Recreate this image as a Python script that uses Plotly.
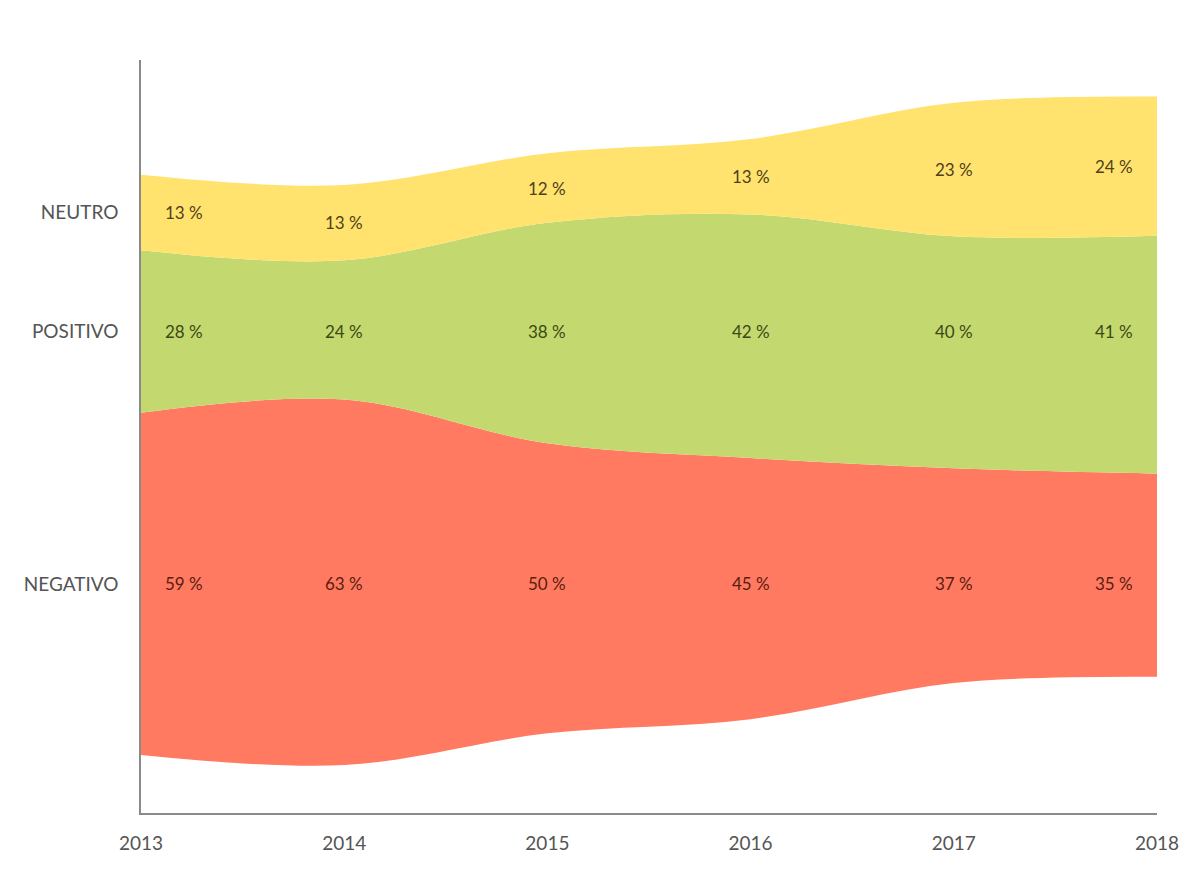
import plotly.graph_objects as go

# data
years = [2013, 2014, 2015, 2016, 2017, 2018]
negativo = [59, 63, 50, 45, 37, 35]
positivo = [28, 24, 38, 42, 40, 41]
neutro = [13, 13, 12, 13, 23, 24]
names = ['NEGATIVO', 'POSITIVO', 'NEUTRO']

fills = ['#FF7A60', '#C4D870', '#FFE36E']
text_cols = ['#5a1c10', '#3b4a12', '#4e4119']

series = [negativo, positivo, neutro]

# streamgraph baseline, same idea as d3 stackOffsetWiggle
base = [0.0]
y = 0.0
for j in range(1, len(years)):
    s1 = 0.0
    s2 = 0.0
    for i, s in enumerate(series):
        s3 = (s[j] - s[j - 1]) / 2
        for k in range(i):
            s3 += series[k][j] - series[k][j - 1]
        s1 += s[j]
        s2 += s3 * s[j]
    if s1:
        y -= s2 / s1
    base.append(y)

# cumulative edges of each layer
edges = [base]
for s in series:
    edges.append([e + v for e, v in zip(edges[-1], s)])

fig = go.Figure()
fig.add_trace(go.Scatter(x=years, y=edges[0], mode='lines',
                         line=dict(width=0, shape='spline'),
                         hoverinfo='skip', showlegend=False))
for i, name in enumerate(names):
    fig.add_trace(go.Scatter(x=years, y=edges[i + 1], mode='lines', name=name,
                             line=dict(width=0, shape='spline', color=fills[i]),
                             fill='tonexty', fillcolor=fills[i],
                             hoverinfo='skip', showlegend=False))

# row positions = layer middles at first year
rows = [(edges[i][0] + edges[i + 1][0]) / 2 for i in range(3)]

# value labels
for i, s in enumerate(series):
    for j, yr in enumerate(years):
        if i == 2:
            ypos = (edges[i][j] + edges[i + 1][j]) / 2
        else:
            ypos = rows[i]
        if j == 0:
            xa, xs = 'left', 22
        elif j == len(years) - 1:
            xa, xs = 'right', -22
        else:
            xa, xs = 'center', 0
        fig.add_annotation(x=yr, y=ypos, text='%d %%' % s[j], showarrow=False,
                           xanchor=xa, xshift=xs, yanchor='middle',
                           font=dict(family='Lato', size=17, color=text_cols[i]))

# page body has an 8px margin, so the figure is a bit smaller than the window
fig.update_layout(
    width=1192, height=877,
    margin=dict(l=133, r=43, t=52, b=72),
    paper_bgcolor='white', plot_bgcolor='white',
    font=dict(family='Lato', size=16, color='#555555'),
)
fig.update_xaxes(range=[2013, 2018], tickvals=years, showgrid=False, zeroline=False,
                 showline=True, linecolor='#8a8a8a', linewidth=1.5, ticks='',
                 ticklabelstandoff=12, tickfont=dict(family='Lato', size=19, color='#555555'))
fig.update_yaxes(range=[-10, 119.8], tickvals=rows, ticktext=names, showgrid=False,
                 zeroline=False, showline=True, linecolor='#8a8a8a', linewidth=1.5,
                 ticks='', ticklabelstandoff=17,
                 tickfont=dict(family='Lato', size=19, color='#555555'))

fig.write_html('out.html')
